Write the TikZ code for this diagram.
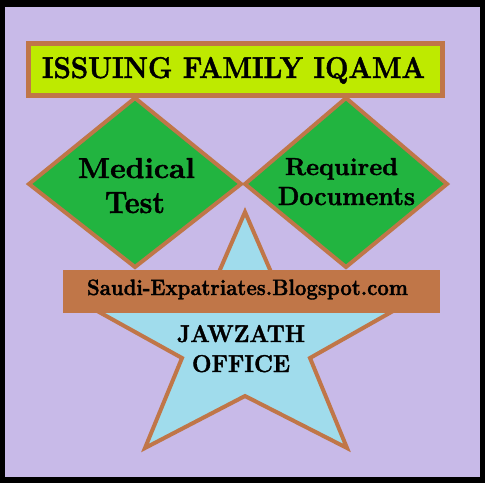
\documentclass[tikz,border=0pt]{standalone}
\usepackage{fontspec}
\usepackage{graphicx}
\newfontfamily\heavy{Latin Modern Roman}[BoldFeatures={FakeBold=1.6}]
\definecolor{lav}{RGB}{200,186,232}
\definecolor{brn}{RGB}{192,118,72}
\definecolor{ylw}{RGB}{190,234,0}
\definecolor{grn}{RGB}{34,180,64}
\definecolor{sky}{RGB}{160,220,236}
\newcommand\fitline[3]{\resizebox{#1pt}{#2pt}{\heavy\bfseries\fontsize{24}{28}\selectfont #3}}
\tikzset{
  lbl/.style={text=black, inner sep=0pt, anchor=base},
  edge/.style={draw=brn, line width=4pt, line join=miter},
}
\begin{document}
\begin{tikzpicture}[x=1pt,y=-1pt]
\useasboundingbox (0,0) rectangle (485,483);
\fill[black] (0,0) rectangle (485,483);
\fill[lav] (5,7) rectangle (480,477);
% diamonds
\draw[edge, fill=grn] (135,98) -- (241,184) -- (135,267) -- (29,184) -- cycle;
\draw[edge, fill=grn] (346,98) -- (447,184) -- (346,267) -- (245,184) -- cycle;
% star
\draw[edge, fill=sky] (245,212) -- (284,302) -- (409,302) -- (310,358) -- (347,448)
  -- (245,396) -- (145,448) -- (182,358) -- (81,302) -- (206,302) -- cycle;
% title box
\draw[draw=brn, line width=5pt, fill=ylw] (28.5,43.5) rectangle (442.5,95.5);
\node[lbl] (title) at (233.5,78) {\fitline{383}{21}{ISSUING FAMILY IQAMA}};
% bar
\fill[brn] (63,270) rectangle (440,313);
\node[lbl] (blog) at (247.5,295) {\fitline{321}{15.5}{Saudi-Expatriates.Blogspot.com}};
% labels
\node[lbl] (med) at (136.5,178) {\fitline{117}{20}{Medical}};
\node[lbl] (test) at (135,213) {\fitline{60}{21}{Test}};
\node[lbl] (req) at (341.5,175) {\fitline{113}{17}{Required}};
\node[lbl] (doc) at (346.5,205) {\fitline{137}{18}{Documents}};
\node[lbl] (jaw) at (241,342) {\fitline{128}{17}{JAWZATH}};
\node[lbl] (off) at (241,372) {\fitline{98}{17}{OFFICE}};
\end{tikzpicture}
\end{document}
